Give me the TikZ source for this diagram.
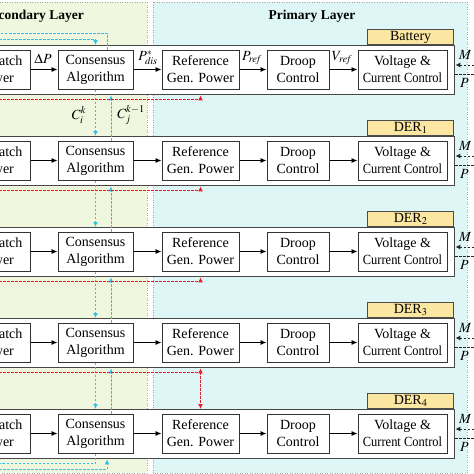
\documentclass[tikz,border=0pt]{standalone}
\usepackage{mathptmx}
\usepackage{fontspec}
\setmainfont{Liberation Serif}
\usetikzlibrary{arrows.meta,calc}
\definecolor{greenbg}{HTML}{EFF7DE}
\definecolor{cyanbg}{HTML}{DFF6F6}
\definecolor{tagyel}{HTML}{FBE7A2}
\definecolor{cyline}{HTML}{2FC0EC}
\definecolor{redline}{HTML}{E41E26}
\begin{document}
\begin{tikzpicture}[x=1pt,y=-1pt,
  bgborder/.style={draw=black!35, line width=0.6pt, dash pattern=on 1pt off 1.5pt},
  titlef/.style={font=\bfseries\fontsize{13.5}{16}\selectfont, inner sep=0pt},
  rowbox/.style={draw=black!72, line width=1.4pt, fill=white, inner sep=0pt},
  tagbox/.style={draw=black!70, line width=0.8pt, fill=tagyel, minimum width=86pt, minimum height=15pt, inner sep=0pt, font=\fontsize{14}{16}\selectfont},
  blk/.style={draw=black!80, line width=1pt, fill=white, minimum height=39pt, inner sep=0pt, align=center, font=\fontsize{14}{17}\selectfont},
  arr/.style={-{Latex[length=6pt,width=5pt]}, line width=0.9pt, black},
  cy/.style={cyline, line width=1pt, dash pattern=on 2.5pt off 1.5pt},
  cyarr/.style={cy, -{Latex[length=5pt,width=5pt]}},
  redarr/.style={redline, line width=1pt, dash pattern=on 2.5pt off 1.5pt, -{Latex[length=5pt,width=5pt]}},
  rightarr/.style={black!85, line width=0.9pt, dash pattern=on 2.5pt off 1.5pt},
  lbl/.style={inner sep=0pt, font=\fontsize{14}{16}\selectfont}
]
\clip (0,0) rectangle (474,474);
\useasboundingbox (0,0) rectangle (474,474);

% layer backgrounds
\fill[greenbg] (-120,2) rectangle (147,473);
\draw[bgborder] (-120,2) rectangle (147,473);
\fill[cyanbg] (153,2) rectangle (467,473);
\draw[bgborder] (153,2) rectangle (467,473);

\node[titlef, anchor=east] (sectitle) at (84,16) {Secondary Layer};
\node[titlef] (primtitle) at (312,16) {Primary Layer};

% rows
\foreach \k/\tg in {0/Battery,1/DER$_1$,2/DER$_2$,3/DER$_3$,4/DER$_4$}{
  \pgfmathsetmacro{\T}{45+91*\k}
  \pgfmathsetmacro{\C}{\T+24.5}
  \node[rowbox, minimum width=534pt, minimum height=49pt, anchor=north west] (row\k) at (-80,\T) {};
  \node[tagbox, anchor=south east] (tag\k) at (454,\T) {\tg};
  \node[blk, minimum width=75pt] (disp\k) at (-7,\C) {\hspace*{9pt}Dispatch\\\hspace*{6pt}Power};
  \node[blk, minimum width=75pt] (cons\k) at (95.5,\C) {Consensus\\Algorithm};
  \node[blk, minimum width=77pt] (ref\k) at (200.5,\C) {Reference\\Gen. Power};
  \node[blk, minimum width=62pt] (droop\k) at (298,\C) {Droop\\Control};
  \node[blk, minimum width=89pt] (vc\k) at (402.5,\C) {Voltage \&\\\scalebox{0.89}[1]{Current Control}};
  \draw[arr] (disp\k) -- (cons\k);
  \draw[arr] (cons\k) -- (ref\k);
  \draw[arr] (ref\k) -- (droop\k);
  \draw[arr] (droop\k) -- (vc\k);
  % right-side signals
  \pgfmathsetmacro{\ma}{\T+20}
  \pgfmathsetmacro{\pa}{\T+29}
  \coordinate (min\k) at (490,\ma);
  \coordinate (pout\k) at (490,\pa);
  \draw[rightarr, -{Latex[length=5pt,width=5pt]}] (min\k) -- (row\k.east |- min\k);
  \draw[rightarr] (row\k.east |- pout\k) -- (pout\k);
  \node[lbl, anchor=west] (mlab\k) at (459,\T+10) {$M$};
  \node[lbl, anchor=west] (plab\k) at (460,\T+38) {$P$};
}

% signal labels in the first row
\node[lbl] (dP) at (43,59) {$\Delta P$};
\node[lbl] (pdis) at (148,58) {$P^{*}_{\mathit{dis}}$};
\node[lbl] (pref) at (252,58) {$P_{\mathit{ref}}$};
\node[lbl] (vref) at (342,58) {$V_{\mathit{ref}}$};
\node[lbl] (cik) at (79,115) {$C_i^{k}$};
\node[lbl] (cjk) at (131,115) {$C_j^{k-1}$};

% consensus links
\coordinate (upx) at (111,0);
\coordinate (wrapx) at (107,0);
\foreach \k in {0,...,3}{
  \pgfmathtruncatemacro{\n}{\k+1}
  \draw[cyarr] (cons\k.south) -- (cons\k.south |- row\n.north);
  \draw[cyarr] (upx |- cons\n.north) -- (upx |- row\k.south);
}
\coordinate (topA) at (-5,33);
\coordinate (topB) at (-5,39);
\coordinate (botA) at (-5,463);
\coordinate (botB) at (-5,469);
\draw[cy] (wrapx |- cons0.north) -- (wrapx |- topA) -- (topA);
\draw[cyarr] (topB) -- (cons0.north |- topB) -- (cons0.north |- row0.north);
\draw[cy] (cons4.south) -- (cons4.south |- botA) -- (botA);
\draw[cyarr] (botB) -- (wrapx |- botB) -- (wrapx |- row4.south);

% power reference links
\foreach \k in {0,...,3}{
  \pgfmathsetmacro{\ry}{45+91*\k+54}
  \coordinate (red\k) at (-5,\ry);
  \draw[redarr] (red\k) -- (ref\k.south |- red\k) -- (ref\k.south |- row\k.south);
}
\draw[redarr] (ref3.south |- red3) -- (ref3.south |- row4.north);
\end{tikzpicture}
\end{document}
